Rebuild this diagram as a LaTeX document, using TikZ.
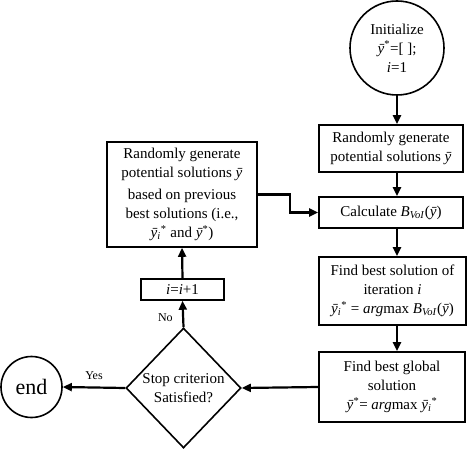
\documentclass[tikz,border=0pt]{standalone}
\usepackage{fontspec}
\setmainfont{Liberation Serif}
\usetikzlibrary{%
        arrows.meta,
        shapes.geometric
    }
\newcommand{\yvec}{\textit{ȳ}}
\newcommand{\bvoi}{\textit{B}\textsubscript{\textit{VoI}}}
\tikzset{%
    stepbox/.style={%
        draw, line width=1.6pt, align=center, inner sep=2pt,
        font=\fontsize{15}{19}\selectfont
    },
    endpoint/.style={%
        draw, circle, line width=1.6pt, align=center, inner sep=0pt,
        font=\fontsize{15}{19}\selectfont
    },
    flow/.style={-{Triangle[length=9pt, width=8pt]}, line width=2.2pt},
    answer/.style={font=\fontsize{12}{14}\selectfont}
}

\begin{document}
\begin{tikzpicture}[x=1pt, y=-1pt]

    \useasboundingbox (0, 0) rectangle (474, 449);

    % Main column
    \node[endpoint, minimum size=94pt] (init) at (397, 48)
        {Initialize\\ \yvec\textsuperscript{*}=[ ];\\ \textit{i}=1};
    \node[stepbox, minimum width=144pt, minimum height=47pt] (gen)
        at (391, 148.5)
        {Randomly generate\\ potential solutions \yvec};
    \node[stepbox, minimum width=144pt, minimum height=31pt] (calc)
        at (391, 212.5)
        {Calculate \bvoi(\yvec)};
    \node[stepbox, minimum width=147pt, minimum height=68pt] (bestiter)
        at (392.5, 291)
        {Find best solution of\\ iteration \textit{i}\\
         \yvec\textsubscript{\textit{i}}\textsuperscript{*} = \textit{arg}max \bvoi(\yvec)};
    \node[stepbox, minimum width=146pt, minimum height=70pt] (bestglob)
        at (392, 387)
        {Find best global\\ solution\\
         \yvec\textsuperscript{*}= \textit{arg}max \yvec\textsubscript{\textit{i}}\textsuperscript{*}};

    % Loop back
    \node[stepbox, minimum width=150pt, minimum height=105pt] (regen)
        at (182, 194.5)
        {Randomly generate\\ potential solutions \yvec\\[3pt]
         based on previous\\ best solutions (i.e.,\\
         \yvec\textsubscript{\textit{i}}\textsuperscript{*} and \yvec\textsuperscript{*})};
    \node[stepbox, minimum width=83pt, minimum height=21pt, inner sep=1pt] (incr)
        at (182.5, 289.5)
        {\textit{i}=\textit{i}+1};
    \node[stepbox, diamond, minimum width=115pt, minimum height=120pt,
          inner sep=0pt] (stop) at (183.5, 388)
        {Stop criterion\\ Satisfied?};
    \node[endpoint, minimum size=61pt, font=\fontsize{22}{24}\selectfont]
        (finish) at (31.5, 387) {end};

    \draw[flow] (init.south) -- (gen.north -| init);
    \draw[flow] (gen.south -| init) -- (calc.north -| init);
    \draw[flow] (calc.south -| init) -- (bestiter.north -| init);
    \draw[flow] (bestiter.south -| init) -- (bestglob.north -| init);
    \draw[flow] (bestglob.west) -- (stop.east);
    \draw[flow] (stop.west) -- (finish.east)
        node[answer, midway, above=3pt] {Yes};
    \draw[flow] (stop.north) -- (incr.south)
        node[answer, pos=0.35, left=6pt] {No};
    \draw[flow] (incr.north) -- (regen.south);
    \draw[flow] (regen.east) -- ++(32, 0) |- (calc.west);

\end{tikzpicture}
\end{document}
